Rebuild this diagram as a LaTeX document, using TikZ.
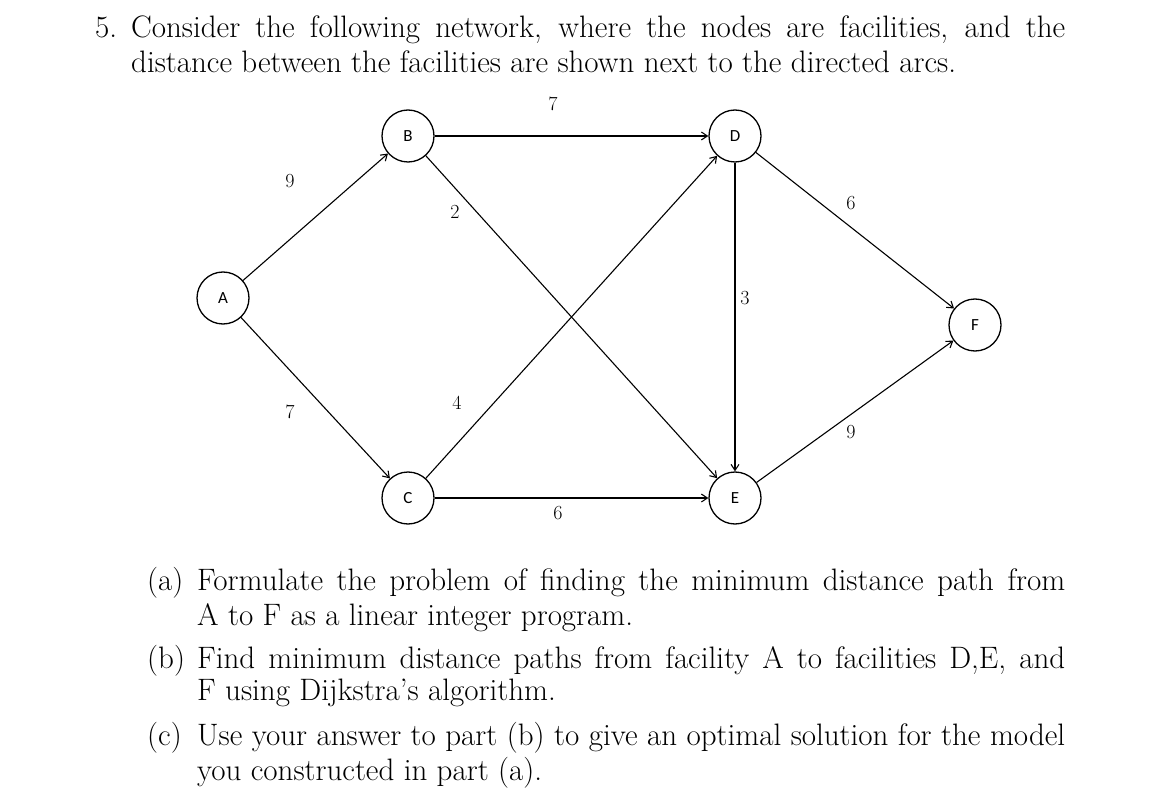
\documentclass[tikz,border=0pt]{standalone}
\usepackage{fontspec}
\newfontfamily\nodefont{Carlito}
\usetikzlibrary{arrows.meta}
\begin{document}
\begin{tikzpicture}[x=1pt,y=-1pt,
  fac/.style={circle,draw,line width=1.3pt,minimum size=52pt,inner sep=0pt,font=\nodefont\fontsize{17}{17}\selectfont,fill=white},
  arc/.style={-{Straight Barb[length=6pt,width=8pt]},line width=1.1pt},
  lbl/.style={font=\fontsize{20}{20}\selectfont},
  txt/.style={anchor=base west,inner sep=0pt,font=\fontsize{31}{36}\selectfont}]
\useasboundingbox (0,0) rectangle (1170,810);
\node[fac] (A) at (223,298) {A};
\node[fac] (B) at (408,136) {B};
\node[fac] (C) at (408,498) {C};
\node[fac] (D) at (735,136) {D};
\node[fac] (E) at (735,498) {E};
\node[fac] (F) at (975,325) {F};
\draw[arc] (A) -- (B);
\draw[arc] (A) -- (C);
\draw[arc] (B) -- (D);
\draw[arc] (B) -- (E);
\draw[arc] (C) -- (D);
\draw[arc] (C) -- (E);
\draw[arc] (D) -- (E);
\draw[arc] (D) -- (F);
\draw[arc] (E) -- (F);
\node[lbl] (l1) at (553,104) {7};
\node[lbl] (l2) at (290,181) {9};
\node[lbl] (l3) at (455,212) {2};
\node[lbl] (l4) at (745,298) {3};
\node[lbl] (l5) at (457,403) {4};
\node[lbl] (l6) at (290,412) {7};
\node[lbl] (l7) at (558,513) {6};
\node[lbl] (l8) at (851,203) {6};
\node[lbl] (l9) at (851,432) {9};
\node[txt] (t0) at (95,38) {5.};
\node[txt] (t1) at (131,38) {\makebox[934pt][s]{Consider the following network, where the nodes are facilities, and the}};
\node[txt] (t2) at (131,73) {distance between the facilities are shown next to the directed arcs.};
\node[txt] (pa) at (147,590) {(a)};
\node[txt] (a1) at (197,590) {\makebox[868pt][s]{Formulate the problem of finding the minimum distance path from}};
\node[txt] (a2) at (197,625) {A to F as a linear integer program.};
\node[txt] (pb) at (147,668) {(b)};
\node[txt] (b1) at (197,668) {\makebox[868pt][s]{Find minimum distance paths from facility A to facilities D,E, and}};
\node[txt] (b2) at (197,700) {F using Dijkstra's algorithm.};
\node[txt] (pc) at (147,745) {(c)};
\node[txt] (c1) at (197,745) {\makebox[868pt][s]{Use your answer to part (b) to give an optimal solution for the model}};
\node[txt] (c2) at (197,780) {you constructed in part (a).};
\end{tikzpicture}
\end{document}
